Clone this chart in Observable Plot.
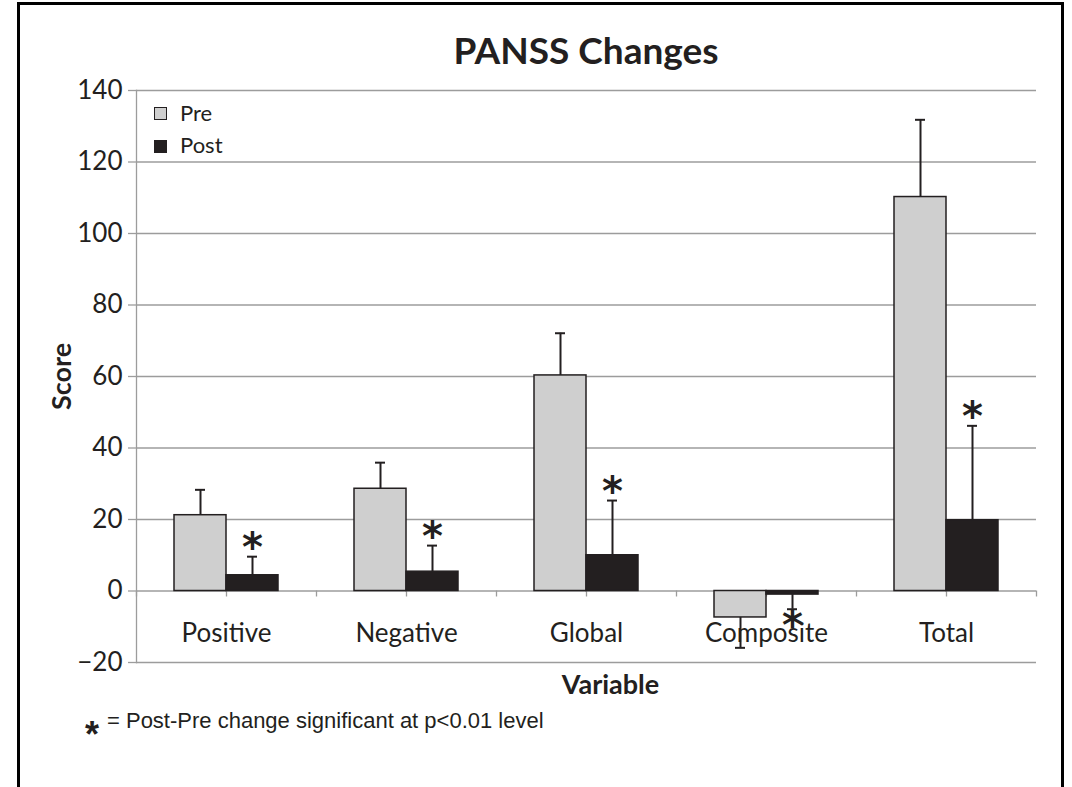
<!DOCTYPE html>
<html>
<head>
<meta charset="utf-8">
<script src="https://cdn.jsdelivr.net/npm/d3@7"></script>
<script src="https://cdn.jsdelivr.net/npm/@observablehq/plot@0.6"></script>
<style>
  html, body { margin: 0; padding: 0; background: #fff; }
  body { width: 1072px; height: 787px; position: relative; overflow: hidden; font-family: Lato, sans-serif; color: #231f20; }
  #frame { position: absolute; left: 17px; top: 2px; width: 1041px; height: 900px; border: 3px solid #000; border-bottom: none; }
  #title { position: absolute; left: 136px; width: 900px; top: 31px; text-align: center; font-size: 37px; font-weight: bold; line-height: 37px; white-space: nowrap; }
  #chart { position: absolute; left: 0; top: 70px; }
  .legtxt { position: absolute; left: 180px; font-size: 22px; line-height: 22px; white-space: nowrap; }
  .sw { position: absolute; left: 154px; width: 11px; height: 11px; border: 1px solid #231f20; }
  #note { position: absolute; left: 107px; top: 710px; font-family: "Liberation Sans", Arial, sans-serif; font-size: 22px; line-height: 22px; white-space: nowrap; }
  #noteStar { position: absolute; left: 85px; top: 717px; font-family: "Liberation Sans", Arial, sans-serif; font-weight: bold; font-size: 36px; line-height: 36px; }
</style>
</head>
<body>
<div id="frame"></div>
<div id="title"></div>
<div id="chart"></div>
<div id="legend"></div>
<div id="noteStar"></div>
<div id="note"></div>
<script>
// ---- data ----
const categories = ["Positive", "Negative", "Global", "Composite", "Total"];
const seriesNames = ["Pre", "Post"];
const preMean  = [21.2, 28.6, 60.3, -7.4, 110.2];
const preSD    = [7.1, 7.3, 11.8, 8.5, 21.6];
const postMean = [4.4, 5.4, 10.0, -1.0, 19.8];
const postSD   = [5.2, 7.3, 15.3, 4.1, 26.4];
const significant = [true, true, true, true, true];
const yTicks = [-20, 0, 20, 40, 60, 80, 100, 120, 140];
const titleText = "PANSS Changes";
const xLabel = "Variable";
const yLabel = "Score";
const noteText = "= Post-Pre change significant at p<0.01 level";

// ---- build table ----
const rows = categories.map((c, i) => ({
  category: c,
  pre: preMean[i],
  preEnd: preMean[i] + Math.sign(preMean[i]) * preSD[i],
  post: postMean[i],
  postEnd: postMean[i] + Math.sign(postMean[i]) * postSD[i],
  sig: significant[i]
}));

const ink = "#231f20";
const gridColor = "#9c9c9c";
const preFill = "#cfcfcf";
const postFill = "#231f20";

const W = 1072, H = 640;
const mL = 136, mR = 36;
const step = (W - mL - mR) / categories.length;  // 180
const barW = 52;
const innerPad = (step - 2 * barW) / step;

const fmt = d => d < 0 ? "\u2212" + Math.abs(d) : String(d);

const chart = Plot.plot({
  width: W,
  height: H,
  marginLeft: mL,
  marginRight: mR,
  marginTop: 20,
  marginBottom: 48,
  style: { fontFamily: "Lato, sans-serif", color: ink, background: "transparent", overflow: "visible" },
  x: { type: "band", domain: categories, paddingInner: innerPad, paddingOuter: innerPad / 2 },
  y: { domain: [yTicks[0], yTicks[yTicks.length - 1]] },
  marks: [
    Plot.gridY(yTicks, { stroke: gridColor, strokeOpacity: 1, strokeWidth: 1.3 }),
    Plot.frame({ anchor: "left", stroke: gridColor, strokeWidth: 1.3 }),
    Plot.axisY(yTicks, { tickSize: 8, tickPadding: 6, stroke: gridColor, strokeWidth: 1.3, fill: ink, fontSize: 26, tickFormat: fmt, label: null }),
    // small ticks on the zero baseline (band centres and band edges)
    Plot.ruleX(categories, { x: d => d, y1: 0, y2: 0, insetBottom: -6, stroke: gridColor, strokeWidth: 1.3 }),
    Plot.ruleX(categories, { x: d => d, y1: 0, y2: 0, insetBottom: -6, dx: -step / 2, stroke: gridColor, strokeWidth: 1.3 }),
    Plot.ruleX(categories.slice(-1), { x: d => d, y1: 0, y2: 0, insetBottom: -6, dx: step / 2, stroke: gridColor, strokeWidth: 1.3 }),
    // bars
    Plot.barY(rows, { x: "category", y: "pre", fill: preFill, stroke: ink, strokeWidth: 1.5, insetRight: barW }),
    Plot.barY(rows, { x: "category", y: "post", fill: postFill, stroke: ink, strokeWidth: 1.5, insetLeft: barW }),
    // error bars
    Plot.ruleX(rows, { x: "category", y1: "pre", y2: "preEnd", dx: -barW / 2, stroke: ink, strokeWidth: 2 }),
    Plot.tickY(rows, { x: "category", y: "preEnd", insetLeft: barW / 2 - 5, insetRight: barW * 1.5 - 5, stroke: ink, strokeWidth: 2 }),
    Plot.ruleX(rows, { x: "category", y1: "post", y2: "postEnd", dx: barW / 2, stroke: ink, strokeWidth: 2 }),
    Plot.tickY(rows, { x: "category", y: "postEnd", insetLeft: barW * 1.5 - 5, insetRight: barW / 2 - 5, stroke: ink, strokeWidth: 2 }),
    // category labels sit between 0 and -20
    Plot.axisX({ tickSize: 0, fontSize: 26, fill: ink, dy: -48, label: null }),
    // significance asterisks
    Plot.text(rows, { filter: d => d.sig && d.post >= 0, x: "category", y: "postEnd", text: () => "*", dx: barW / 2, dy: 4, lineAnchor: "bottom", fontSize: 40, fontWeight: "bold", fontFamily: "DejaVu Sans", fill: ink }),
    Plot.text(rows, { filter: d => d.sig && d.post < 0, x: "category", y: "postEnd", text: () => "*", dx: barW / 2, dy: 30, lineAnchor: "bottom", fontSize: 40, fontWeight: "bold", fontFamily: "DejaVu Sans", fill: ink }),
    // axis titles
    Plot.text([yLabel], { text: d => d, frameAnchor: "left", textAnchor: "middle", lineAnchor: "middle", rotate: -90, dx: -74, fontSize: 27, fontWeight: "bold", fill: ink }),
    Plot.text([xLabel], { text: d => d, frameAnchor: "bottom", textAnchor: "middle", lineAnchor: "middle", dx: 24, dy: 23, fontSize: 27, fontWeight: "bold", fill: ink })
  ]
});
document.getElementById("chart").appendChild(chart);

document.getElementById("title").textContent = titleText;

// legend (inside plot area, top-left)
const legend = document.getElementById("legend");
const legendFills = [preFill, postFill];
const legendTops = [107, 139.5];
seriesNames.forEach((name, i) => {
  const sw = document.createElement("div");
  sw.className = "sw";
  sw.style.top = legendTops[i] + "px";
  sw.style.background = legendFills[i];
  legend.appendChild(sw);
  const t = document.createElement("div");
  t.className = "legtxt";
  t.style.top = (legendTops[i] - 5.5) + "px";
  t.textContent = name;
  legend.appendChild(t);
});

document.getElementById("noteStar").textContent = "*";
document.getElementById("note").textContent = noteText;
</script>
</body>
</html>
